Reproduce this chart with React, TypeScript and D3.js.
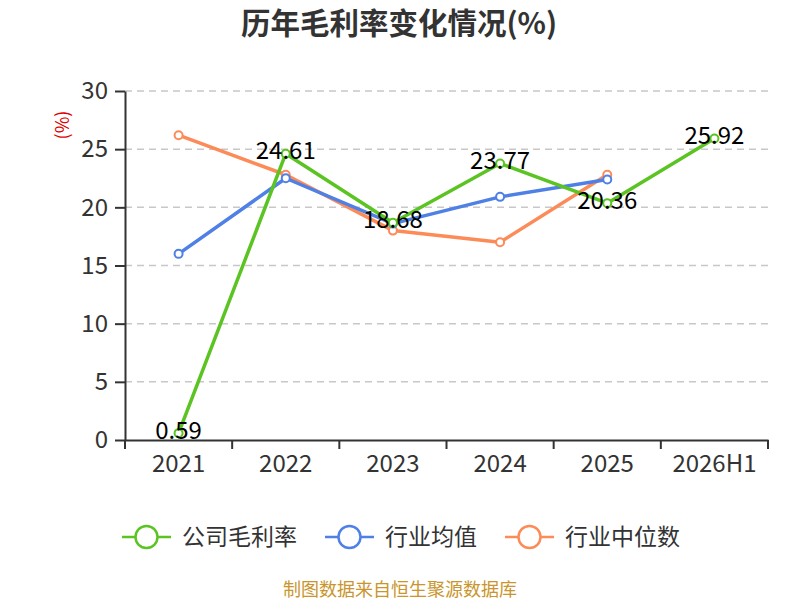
import { useRef, useEffect } from "react";
import * as d3 from "d3";

const categories = ["2021", "2022", "2023", "2024", "2025", "2026H1"];
const companyValues = [0.59, 24.61, 18.68, 23.77, 20.36, 25.92];
const industryAvg = [16.0, 22.5, 18.6, 20.9, 22.4];
const industryMedian = [26.2, 22.8, 18.0, 17.0, 22.8];
const yTicks = [0, 5, 10, 15, 20, 25, 30];
const seriesNames = ["公司毛利率", "行业均值", "行业中位数"];
const seriesColors = ["#5bc423", "#4e80e6", "#fc8b58"];

const FONT = "'Noto Sans CJK SC', 'Noto Sans', sans-serif";

export default function App() {
  const svgRef = useRef(null);

  useEffect(() => {
    const width = 800, height = 600;
    const margin = { left: 125, right: 32, top: 91, bottom: 160 };
    const svg = d3.select(svgRef.current);
    svg.selectAll("*").remove();

    const x = d3.scaleBand()
      .domain(categories)
      .range([margin.left, width - margin.right]);
    const y = d3.scaleLinear()
      .domain([0, 30])
      .range([height - margin.bottom, margin.top]);
    const cx = (c: string) => (x(c) as number) + x.bandwidth() / 2;

    // title
    svg.append("text")
      .attr("x", 399).attr("y", 34)
      .attr("text-anchor", "middle")
      .attr("font-size", 29.5).attr("font-weight", "bold")
      .attr("fill", "#333").attr("font-family", FONT)
      .text("历年毛利率变化情况(%)");

    // unit
    svg.append("text")
      .attr("transform", "translate(69,125) rotate(-90)")
      .attr("text-anchor", "middle")
      .attr("font-size", 18).attr("fill", "#e00000")
      .attr("font-family", FONT)
      .text("(%)");

    // grid
    svg.append("g").selectAll("line")
      .data(yTicks.filter(t => t > 0))
      .join("line")
      .attr("x1", margin.left).attr("x2", width - margin.right)
      .attr("y1", d => y(d)).attr("y2", d => y(d))
      .attr("stroke", "#c8c8c8").attr("stroke-width", 1.5)
      .attr("stroke-dasharray", "7,5");

    // y axis
    const yAx = svg.append("g")
      .attr("transform", `translate(${margin.left},0)`)
      .call(d3.axisLeft(y).tickValues(yTicks).tickSize(10).tickSizeOuter(0).tickPadding(7));
    yAx.select(".domain").attr("stroke", "#333").attr("stroke-width", 2);
    yAx.selectAll(".tick line").attr("stroke", "#333").attr("stroke-width", 2);
    yAx.selectAll("text").attr("font-size", 24).attr("fill", "#333").attr("font-family", FONT);

    // x axis
    const xAx = svg.append("g")
      .attr("transform", `translate(0,${height - margin.bottom})`)
      .call(d3.axisBottom(x).tickSize(0).tickSizeOuter(0).tickPadding(15));
    xAx.select(".domain").attr("stroke", "#333").attr("stroke-width", 2);
    xAx.selectAll("text").attr("font-size", 24).attr("fill", "#333").attr("font-family", FONT);
    xAx.selectAll("line.sep")
      .data(d3.range(categories.length + 1))
      .join("line")
      .attr("class", "sep")
      .attr("x1", i => margin.left + i * x.bandwidth())
      .attr("x2", i => margin.left + i * x.bandwidth())
      .attr("y1", 0).attr("y2", 9)
      .attr("stroke", "#333").attr("stroke-width", 2);

    const line = d3.line<number>()
      .x((_, i) => cx(categories[i]))
      .y(d => y(d));

    const all = [companyValues, industryAvg, industryMedian];
    // draw order: median, avg, company on top
    [2, 1, 0].forEach(si => {
      const vals = all[si];
      const g = svg.append("g");
      g.append("path")
        .attr("d", line(vals))
        .attr("fill", "none")
        .attr("stroke", seriesColors[si])
        .attr("stroke-width", 3.5)
        .attr("stroke-linejoin", "round");
      g.selectAll("circle")
        .data(vals)
        .join("circle")
        .attr("cx", (_, i) => cx(categories[i]))
        .attr("cy", d => y(d))
        .attr("r", 4)
        .attr("fill", "#fff")
        .attr("stroke", seriesColors[si])
        .attr("stroke-width", 2);
    });

    // labels for company
    svg.append("g").selectAll("text")
      .data(companyValues)
      .join("text")
      .attr("x", (_, i) => cx(categories[i]))
      .attr("y", d => y(d) + 5.5)
      .attr("text-anchor", "middle")
      .attr("font-size", 24)
      .attr("fill", "#000")
      .attr("font-family", FONT)
      .text(d => d.toFixed(2));

    // legend
    const legendX = [122, 325, 505];
    const lg = svg.append("g");
    seriesNames.forEach((n, i) => {
      const lx = legendX[i];
      lg.append("line")
        .attr("x1", lx).attr("x2", lx + 49)
        .attr("y1", 537).attr("y2", 537)
        .attr("stroke", seriesColors[i]).attr("stroke-width", 2.5);
      lg.append("circle")
        .attr("cx", lx + 24.5).attr("cy", 537).attr("r", 11)
        .attr("fill", "#fff")
        .attr("stroke", seriesColors[i]).attr("stroke-width", 2.5);
      lg.append("text")
        .attr("x", lx + 60).attr("y", 545)
        .attr("font-size", 23).attr("fill", "#333")
        .attr("font-family", FONT)
        .text(n);
    });

    // source
    svg.append("text")
      .attr("x", 400).attr("y", 596)
      .attr("text-anchor", "middle")
      .attr("font-size", 18).attr("fill", "#c9952c")
      .attr("font-family", FONT)
      .text("制图数据来自恒生聚源数据库");
  }, []);

  return (
    <svg ref={svgRef} width={800} height={600}
      style={{ position: "absolute", left: 0, top: 0, background: "#fff" }} />
  );
}
